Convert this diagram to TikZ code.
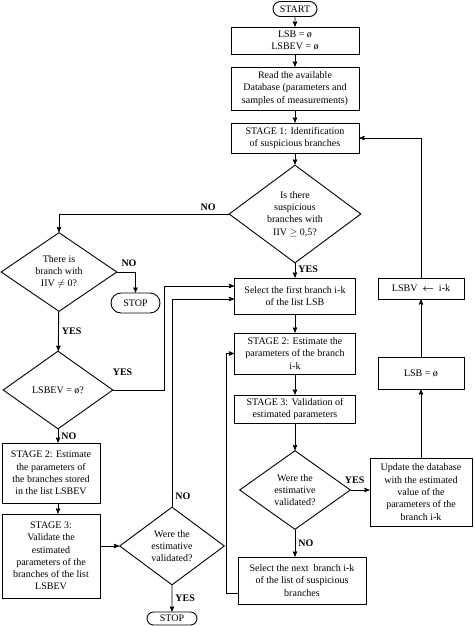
\documentclass[tikz,border=0pt]{standalone}
\usepackage{fontspec}
\setmainfont{Liberation Serif}
\usepackage{amsmath}
\usetikzlibrary{shapes.geometric, shapes.misc, arrows}

\begin{document}
\begin{tikzpicture}[x=1pt,y=-1pt,->,>=stealth',line width=0.9pt,font=\fontsize{10}{12.3}\selectfont]
\tikzstyle{process} = [rectangle, draw=black, align=center, inner sep=1pt]
\tikzstyle{decision} = [diamond, draw=black, align=center, inner sep=0pt, shape aspect=1.35]
\tikzstyle{terminal} = [rounded rectangle, draw=black, inner sep=1pt]
\tikzstyle{answer} = [font=\fontsize{10}{12.3}\selectfont\bfseries, inner sep=1pt]

\useasboundingbox (0,0) rectangle (474,626);

% main column
\node (start) at (295,9) [terminal, minimum width=46pt, minimum height=15pt] {START};
\node (init) at (295,40.5) [process, minimum width=128pt, minimum height=27pt] {LSB = ø\\LSBEV = ø};
\node (read) at (295,88.5) [process, minimum width=128pt, minimum height=43pt] {Read the available\\Database (parameters and\\samples of measurements)};
\node (stage1) at (295,138) [process, minimum width=128pt, minimum height=30pt] {STAGE 1: Identification\\of suspicious branches};
\node (suspect) at (295,214) [decision, minimum width=132pt, minimum height=98pt] {Is there\\suspicious\\branches with\\IIV $\geq$ 0,5?};
\node (first) at (295,296) [process, minimum width=121pt, minimum height=36pt] {Select the first branch i-k\\of the list LSB};
\node (estimate) at (295,353.5) [process, minimum width=121pt, minimum height=41pt] {STAGE 2: Estimate the\\parameters of the branch\\i-k};
\node (validate) at (295,409) [process, minimum width=121pt, minimum height=28pt] {STAGE 3: Validation of\\estimated parameters};
\node (validated) at (295,490) [decision, minimum width=111pt, minimum height=79pt] {Were the\\estimative\\validated?};
\node (next) at (302,580.5) [process, minimum width=128pt, minimum height=47pt] {Select the next\ \ branch i-k\\of the list of suspicious\\branches};

% right column
\node (update) at (421,492) [process, minimum width=102pt, minimum height=68pt] {Update the database\\with the estimated\\value of the\\parameters of the\\branch i-k};
\node (clear) at (421,373) [process, minimum width=86pt, minimum height=32pt] {LSB = ø};
\node (store) at (421,288.5) [process, minimum width=86pt, minimum height=21pt] {LSBV\enspace$\boldsymbol{\leftarrow}$\enspace i-k};

% left column
\node (nonzero) at (59,272) [decision, minimum width=116pt, minimum height=79pt] {There is\\branch with\\IIV $\neq$ 0?};
\node (stopA) at (135.5,303) [terminal, minimum width=51pt, minimum height=20pt] {STOP};
\node (empty) at (58,390) [decision, minimum width=110pt, minimum height=78pt] {LSBEV = ø?};
\node (estimateEV) at (51,473) [process, minimum width=98pt, minimum height=60pt] {STAGE 2: Estimate\\the parameters of\\the branches stored\\in the list LSBEV};
\node (validateEV) at (51,556) [process, minimum width=98pt, minimum height=84pt] {STAGE 3:\\Validate the\\estimated\\parameters of the\\branches of the list\\LSBEV};
\node (validatedEV) at (172,546) [decision, minimum width=105pt, minimum height=78pt] {Were the\\estimative\\validated?};
\node (stopB) at (172,618.5) [terminal, minimum width=52pt, minimum height=13pt] {STOP};

\coordinate (inA) at ([yshift=10pt]first.west);
\coordinate (inB) at ([yshift=-3pt]first.west);
\coordinate (turnA) at (164,286);

\draw (start) -- (init);
\draw (init) -- (read);
\draw (read) -- (stage1);
\draw (stage1) -- (suspect);
\draw (suspect) -- node[answer, right=2pt, pos=0.4] {YES} (first);
\draw (suspect.west) -| node[answer, above=2pt, pos=0.06] {NO} (nonzero.north);
\draw (nonzero.east) -| node[answer, above=4pt, pos=0.32] {NO} (stopA.north);
\draw (nonzero) -- node[answer, right=2pt] {YES} (empty);
\draw (empty.east) -| node[answer, above=13pt, pos=0.09] {YES} (turnA) -- (inA);
\draw (empty) -- node[answer, right=2pt] {NO} (estimateEV.north -| empty);
\draw (estimateEV.south -| empty) -- (validateEV.north -| empty);
\draw (validateEV.east |- validatedEV) -- (validatedEV);
\draw (validatedEV.north) -- node[answer, right=2pt, pos=0.05] {NO} (validatedEV.north |- inB) -- (inB);
\draw (validatedEV) -- node[answer, right=2pt] {YES} (stopB);
\draw (first) -- (estimate);
\draw (estimate) -- (validate);
\draw (validate) -- (validated);
\draw (validated.east) -- node[answer, above=5pt, pos=0.2] {YES} (validated.east -| update.west);
\draw (validated) -- node[answer, right=2pt] {NO} (validated.south |- next.north);
\draw ([yshift=-12.5pt]next.west) -| ([xshift=-8pt]estimate.west) -- (estimate.west);
\draw (update) -- (clear);
\draw (clear) -- (store);
\draw (store.north) |- (stage1.east);

\end{tikzpicture}
\end{document}
